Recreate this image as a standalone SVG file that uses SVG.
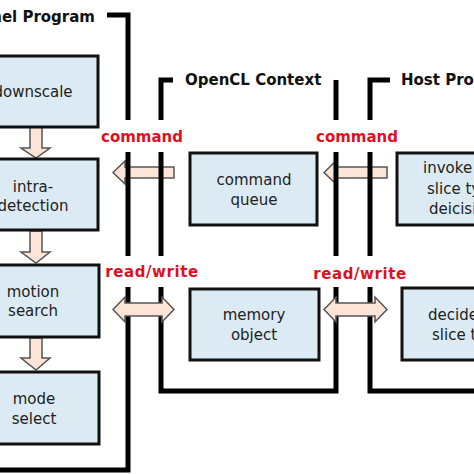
<svg xmlns="http://www.w3.org/2000/svg" width="474" height="474" viewBox="0 0 474 474">
<style>
.box{fill:#dcebf3;stroke:#111;stroke-width:3}
.t{font-family:"DejaVu Sans","Liberation Sans",sans-serif;font-size:15px;fill:#222;text-anchor:middle}
.ts{font-family:"DejaVu Sans","Liberation Sans",sans-serif;font-size:15px;fill:#222}
.title{font-family:"DejaVu Sans","Liberation Sans",sans-serif;font-size:15px;font-weight:bold;fill:#111}
.lbl{font-family:"DejaVu Sans","Liberation Sans",sans-serif;font-size:15px;font-weight:bold;fill:#e0101e;text-anchor:middle}
.frame{fill:none;stroke:#000;stroke-width:5}
.arr{fill:#fce4d6;stroke:#555;stroke-width:1.5;stroke-linejoin:miter}
</style>
<rect width="474" height="474" fill="#fff"/>
<g id="titles">
<text class="title" x="95" y="22" text-anchor="end">Kernel Program</text>
<text class="title" x="185" y="85">OpenCL Context</text>
<text class="title" x="401" y="85">Host Program</text>
</g>
<g id="connectors">
<path class="arr" d="M113,172.5 L125,161 V167 H174 V178 H125 V184 Z"/>
<path class="arr" d="M324,172.5 L336,161 V167 H387 V178 H336 V184 Z"/>
<g id="frames">
<path class="frame" d="M107,15 H128 V120 M128,152 V256 M128,287 V470 H-5"/>
<path class="frame" d="M173,80 H161 V120 M161,152 V256 M161,287 V391 H336 V287 M336,256 V152 M336,120 V80"/>
<path class="frame" d="M390,80 H370 V120 M370,152 V256 M370,287 V391 H480"/>
</g>
<path class="arr" d="M113,309.5 L125,297 V303 H162 V297 L174,309.5 L162,322 V316 H125 V322 Z"/>
<path class="arr" d="M324,309.5 L336,297 V303 H375 V297 L387,309.5 L375,322 V316 H336 V322 Z"/>
<path class="arr" d="M30,127 H42 V148 H50 L36,158 L21,148 H30 Z"/>
<path class="arr" d="M30,231 H42 V252 H50 L36,263 L21,252 H30 Z"/>
<path class="arr" d="M30,338 H42 V358 H50 L36,370 L21,358 H30 Z"/>
<text class="lbl" x="142" y="142">command</text>
<text class="lbl" x="357" y="142">command</text>
<text class="lbl" x="152" y="277" letter-spacing="0.6">read/write</text>
<text class="lbl" x="360" y="279" letter-spacing="0.6">read/write</text>
</g>
<g id="downscale">
<rect class="box" x="-30" y="56" width="128" height="71"/>
<text class="t" x="33" y="97">downscale</text>
</g>
<g id="intra">
<rect class="box" x="-30" y="159" width="128" height="71"/>
<text class="t" x="33" y="192">intra-</text>
<text class="t" x="33" y="211">detection</text>
</g>
<g id="motion">
<rect class="box" x="-30" y="265" width="129" height="72"/>
<text class="t" x="33" y="297">motion</text>
<text class="t" x="33" y="316">search</text>
</g>
<g id="mode">
<rect class="box" x="-30" y="372" width="129" height="72"/>
<text class="t" x="34" y="404">mode</text>
<text class="t" x="34" y="424">select</text>
</g>
<g id="queue">
<rect class="box" x="190" y="153" width="127" height="72"/>
<text class="t" x="254" y="185">command</text>
<text class="t" x="254" y="205">queue</text>
</g>
<g id="memory">
<rect class="box" x="190" y="289" width="129" height="71"/>
<text class="t" x="254" y="320">memory</text>
<text class="t" x="254" y="340">object</text>
</g>
<g id="invoke">
<rect class="box" x="397" y="153" width="100" height="72"/>
<text class="ts" x="423" y="173">invoke</text>
<text class="ts" x="427" y="194">slice type</text>
<text class="ts" x="429" y="214">deicision</text>
</g>
<g id="decide">
<rect class="box" x="402" y="288" width="100" height="72"/>
<text class="ts" x="428" y="320">decide</text>
<text class="ts" x="432" y="340">slice type</text>
</g>
</svg>
